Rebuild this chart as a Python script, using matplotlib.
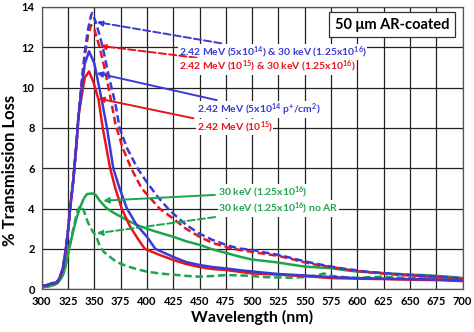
import matplotlib
matplotlib.use("Agg")
import matplotlib.pyplot as plt

plt.rcParams['font.family'] = ['Lato', 'DejaVu Sans']
plt.rcParams['font.weight'] = 'bold'
plt.rcParams['mathtext.fontset'] = 'custom'
plt.rcParams['mathtext.rm'] = 'Lato:bold'
plt.rcParams['mathtext.it'] = 'Lato:bold'
plt.rcParams['mathtext.bf'] = 'Lato:bold'

# shared rise of the 2.42 MeV curves
rise_wl = [300, 305, 310, 313, 316, 318, 320, 323, 325, 327, 330, 333, 335]
rise_val = [0.15, 0.2, 0.3, 0.3, 0.45, 0.7, 1.0, 2.0, 2.9, 4.0, 5.4, 7.2, 8.6]

# 2.42 MeV (5x10^14) & 30 keV, blue dashed
bd_wl = rise_wl + [338, 341, 344, 347, 348, 351, 355, 358, 362, 365, 370, 374, 381, 391, 400, 410,
                   420, 425, 437, 450, 462, 475, 487, 500, 512, 525, 537, 550, 562, 575, 587,
                   600, 612, 625, 637, 650, 662, 675, 687, 700]
bd_val = rise_val + [10.3, 11.8, 12.9, 13.6, 13.7, 13.3, 12.6, 12.0, 11.0, 10.3, 9.2, 8.0, 7.0, 6.0, 5.3, 4.6,
                     4.0, 3.75, 3.2, 2.75, 2.45, 2.2, 2.02, 1.95, 1.82, 1.7, 1.55, 1.38, 1.25, 1.12, 1.02,
                     0.93, 0.85, 0.8, 0.75, 0.71, 0.67, 0.63, 0.58, 0.54]

# 2.42 MeV (10^15) & 30 keV, red dashed
rd_wl = rise_wl + [338, 341, 344, 347, 350, 355, 360, 365, 370, 377, 385, 395, 412,
                   425, 437, 450, 462, 475, 480, 490, 500, 512, 525, 537, 550, 562, 575, 587,
                   600, 612, 625, 637, 650, 662, 675, 687, 700]
rd_val = rise_val + [10.2, 11.6, 12.6, 13.1, 12.9, 12.0, 10.9, 9.6, 8.2, 7.0, 6.0, 5.0, 4.0,
                     3.5, 3.0, 2.6, 2.3, 2.1, 2.02, 1.93, 1.85, 1.75, 1.65, 1.5, 1.33, 1.2, 1.1, 1.0,
                     0.9, 0.83, 0.77, 0.72, 0.68, 0.64, 0.6, 0.55, 0.5]

# 2.42 MeV (5x10^14), blue solid
bs_wl = rise_wl + [338, 341, 345, 350, 357, 362, 368, 374, 381, 390, 400, 408, 425,
                   437, 450, 462, 475, 490, 500, 525, 550, 575, 600, 625, 650, 675, 700]
bs_val = rise_val + [10.0, 11.2, 11.8, 11.2, 9.4, 8.0, 6.0, 5.0, 4.0, 3.2, 2.6, 2.0, 1.6,
                     1.35, 1.2, 1.1, 1.03, 0.93, 0.88, 0.75, 0.68, 0.6, 0.55, 0.52, 0.5, 0.48, 0.45]

# 2.42 MeV (10^15), red solid
rs_wl = rise_wl + [338, 341, 345, 349, 354, 358, 365, 370, 376, 384, 392, 398, 412, 425,
                   437, 450, 462, 475, 490, 500, 525, 550, 575, 600, 625, 650, 675, 700]
rs_val = rise_val + [9.6, 10.5, 10.8, 10.3, 9.4, 8.0, 6.0, 5.0, 4.0, 3.1, 2.45, 2.0, 1.7, 1.45,
                     1.25, 1.1, 1.0, 0.95, 0.85, 0.78, 0.72, 0.65, 0.55, 0.52, 0.5, 0.47, 0.45, 0.4]

# 30 keV (1.25x10^16), green solid
gs_wl = [300, 305, 310, 315, 318, 320, 322, 326, 330, 333, 336, 340, 343, 348, 351, 355, 361, 368,
         375, 384, 392, 400, 412, 425, 437, 450, 462, 475, 489, 500, 512, 525, 537, 550, 562, 575,
         587, 600, 612, 625, 637, 650, 662, 675, 687, 700]
gs_val = [0.1, 0.12, 0.18, 0.3, 0.5, 0.7, 1.0, 2.0, 2.9, 3.5, 4.0, 4.5, 4.72, 4.75, 4.7, 4.4, 4.05, 3.8,
          3.6, 3.35, 3.15, 3.0, 2.8, 2.6, 2.38, 2.2, 1.98, 1.8, 1.6, 1.47, 1.4, 1.32, 1.22, 1.12, 1.08, 1.04,
          0.95, 0.87, 0.84, 0.8, 0.76, 0.72, 0.7, 0.66, 0.62, 0.55]

# 30 keV (1.25x10^16) no AR, green dashed
gd_wl = [300, 305, 310, 315, 318, 320, 322, 326, 330, 334, 337, 340, 344, 348, 352, 355, 359, 365,
         371, 381, 390, 400, 412, 425, 437, 450, 462, 475, 490, 500, 512, 525, 537, 550, 562, 568,
         575, 587, 600, 612, 625, 637, 650, 662, 675, 687, 700]
gd_val = [0.1, 0.12, 0.18, 0.3, 0.5, 0.7, 1.0, 2.0, 3.0, 3.9, 4.15, 3.9, 3.3, 2.9, 2.6, 2.15, 1.85, 1.6,
          1.35, 1.14, 1.0, 0.87, 0.78, 0.72, 0.66, 0.62, 0.65, 0.7, 0.68, 0.65, 0.6, 0.58, 0.57, 0.6, 0.68, 0.78,
          0.66, 0.6, 0.55, 0.6, 0.62, 0.58, 0.55, 0.62, 0.6, 0.58, 0.55]

xticks = list(range(300, 701, 25))
yticks = list(range(0, 15, 2))

blue = '#3a3ad8'
red = '#e8151b'
green = '#1ea34f'

fig = plt.figure(figsize=(4.74, 3.32), dpi=100)
ax = fig.add_axes([0.088, 0.129, 0.888, 0.85])

dash = (0, (3, 1.5))
ax.plot(gd_wl, gd_val, color=green, lw=1.8, ls=dash)
ax.plot(gs_wl, gs_val, color=green, lw=1.8)
ax.plot(rs_wl, rs_val, color=red, lw=1.8)
ax.plot(bs_wl, bs_val, color=blue, lw=1.8)
ax.plot(rd_wl, rd_val, color=red, lw=1.8, ls=dash)
ax.plot(bd_wl, bd_val, color=blue, lw=1.8, ls=dash)

ax.set_xlim(300, 700)
ax.set_ylim(0, 14)
ax.set_xticks(xticks)
ax.set_yticks(yticks)
ax.grid(True, color='#222222', lw=0.9)
ax.set_axisbelow(True)
ax.tick_params(length=0, labelsize=8, pad=5)
for s in ax.spines.values():
    s.set_color('#555555')
    s.set_linewidth(0.9)

ax.set_xlabel('Wavelength (nm)', fontsize=11.5, fontweight='bold', labelpad=2)
fig.text(10 / 474, 1 - 170 / 332, '% Transmission Loss', fontsize=12, fontweight='bold',
         rotation=90, ha='center', va='center')

box = dict(boxstyle='square,pad=0.05', fc='white', ec='none')
labels = [
    ('2.42 MeV (5x$10^{14}$) & 30 keV (1.25x$10^{16}$)', blue, (430.4, 11.76), (352.3, 13.25), '--'),
    ('2.42 MeV ($10^{15}$) & 30 keV (1.25x$10^{16}$)', red, (430.4, 11.05), (355.4, 12.07), '--'),
    ('2.42 MeV (5x$10^{14}$ p$^{+}$/cm$^{2}$)', blue, (447.3, 8.91), (352.3, 10.72), '-'),
    ('2.42 MeV ($10^{15}$)', red, (447.3, 8.05), (353.8, 9.46), '-'),
    ('30 keV (1.25x$10^{16}$)', green, (467.8, 4.8), (358.5, 4.39), '-'),
    ('30 keV (1.25x$10^{16}$) no AR', green, (467.8, 4.01), (352.3, 2.77), '--'),
]
for txt, c, xyt, xy, ls in labels:
    ax.annotate(txt, xy=xy, xytext=xyt, color=c, fontsize=7.5, fontweight='bold',
                ha='left', va='center', bbox=box,
                arrowprops=dict(arrowstyle='-|>', color=c, lw=1.4, ls=ls,
                                mutation_scale=8, shrinkA=2, shrinkB=0))

ax.text(633, 13.13, '50 μm AR-coated', fontsize=10.5, fontweight='bold', ha='center', va='center',
        bbox=dict(boxstyle='square,pad=0.4', fc='white', ec='#333333', lw=0.9))

fig.savefig('out.png', dpi=100)
